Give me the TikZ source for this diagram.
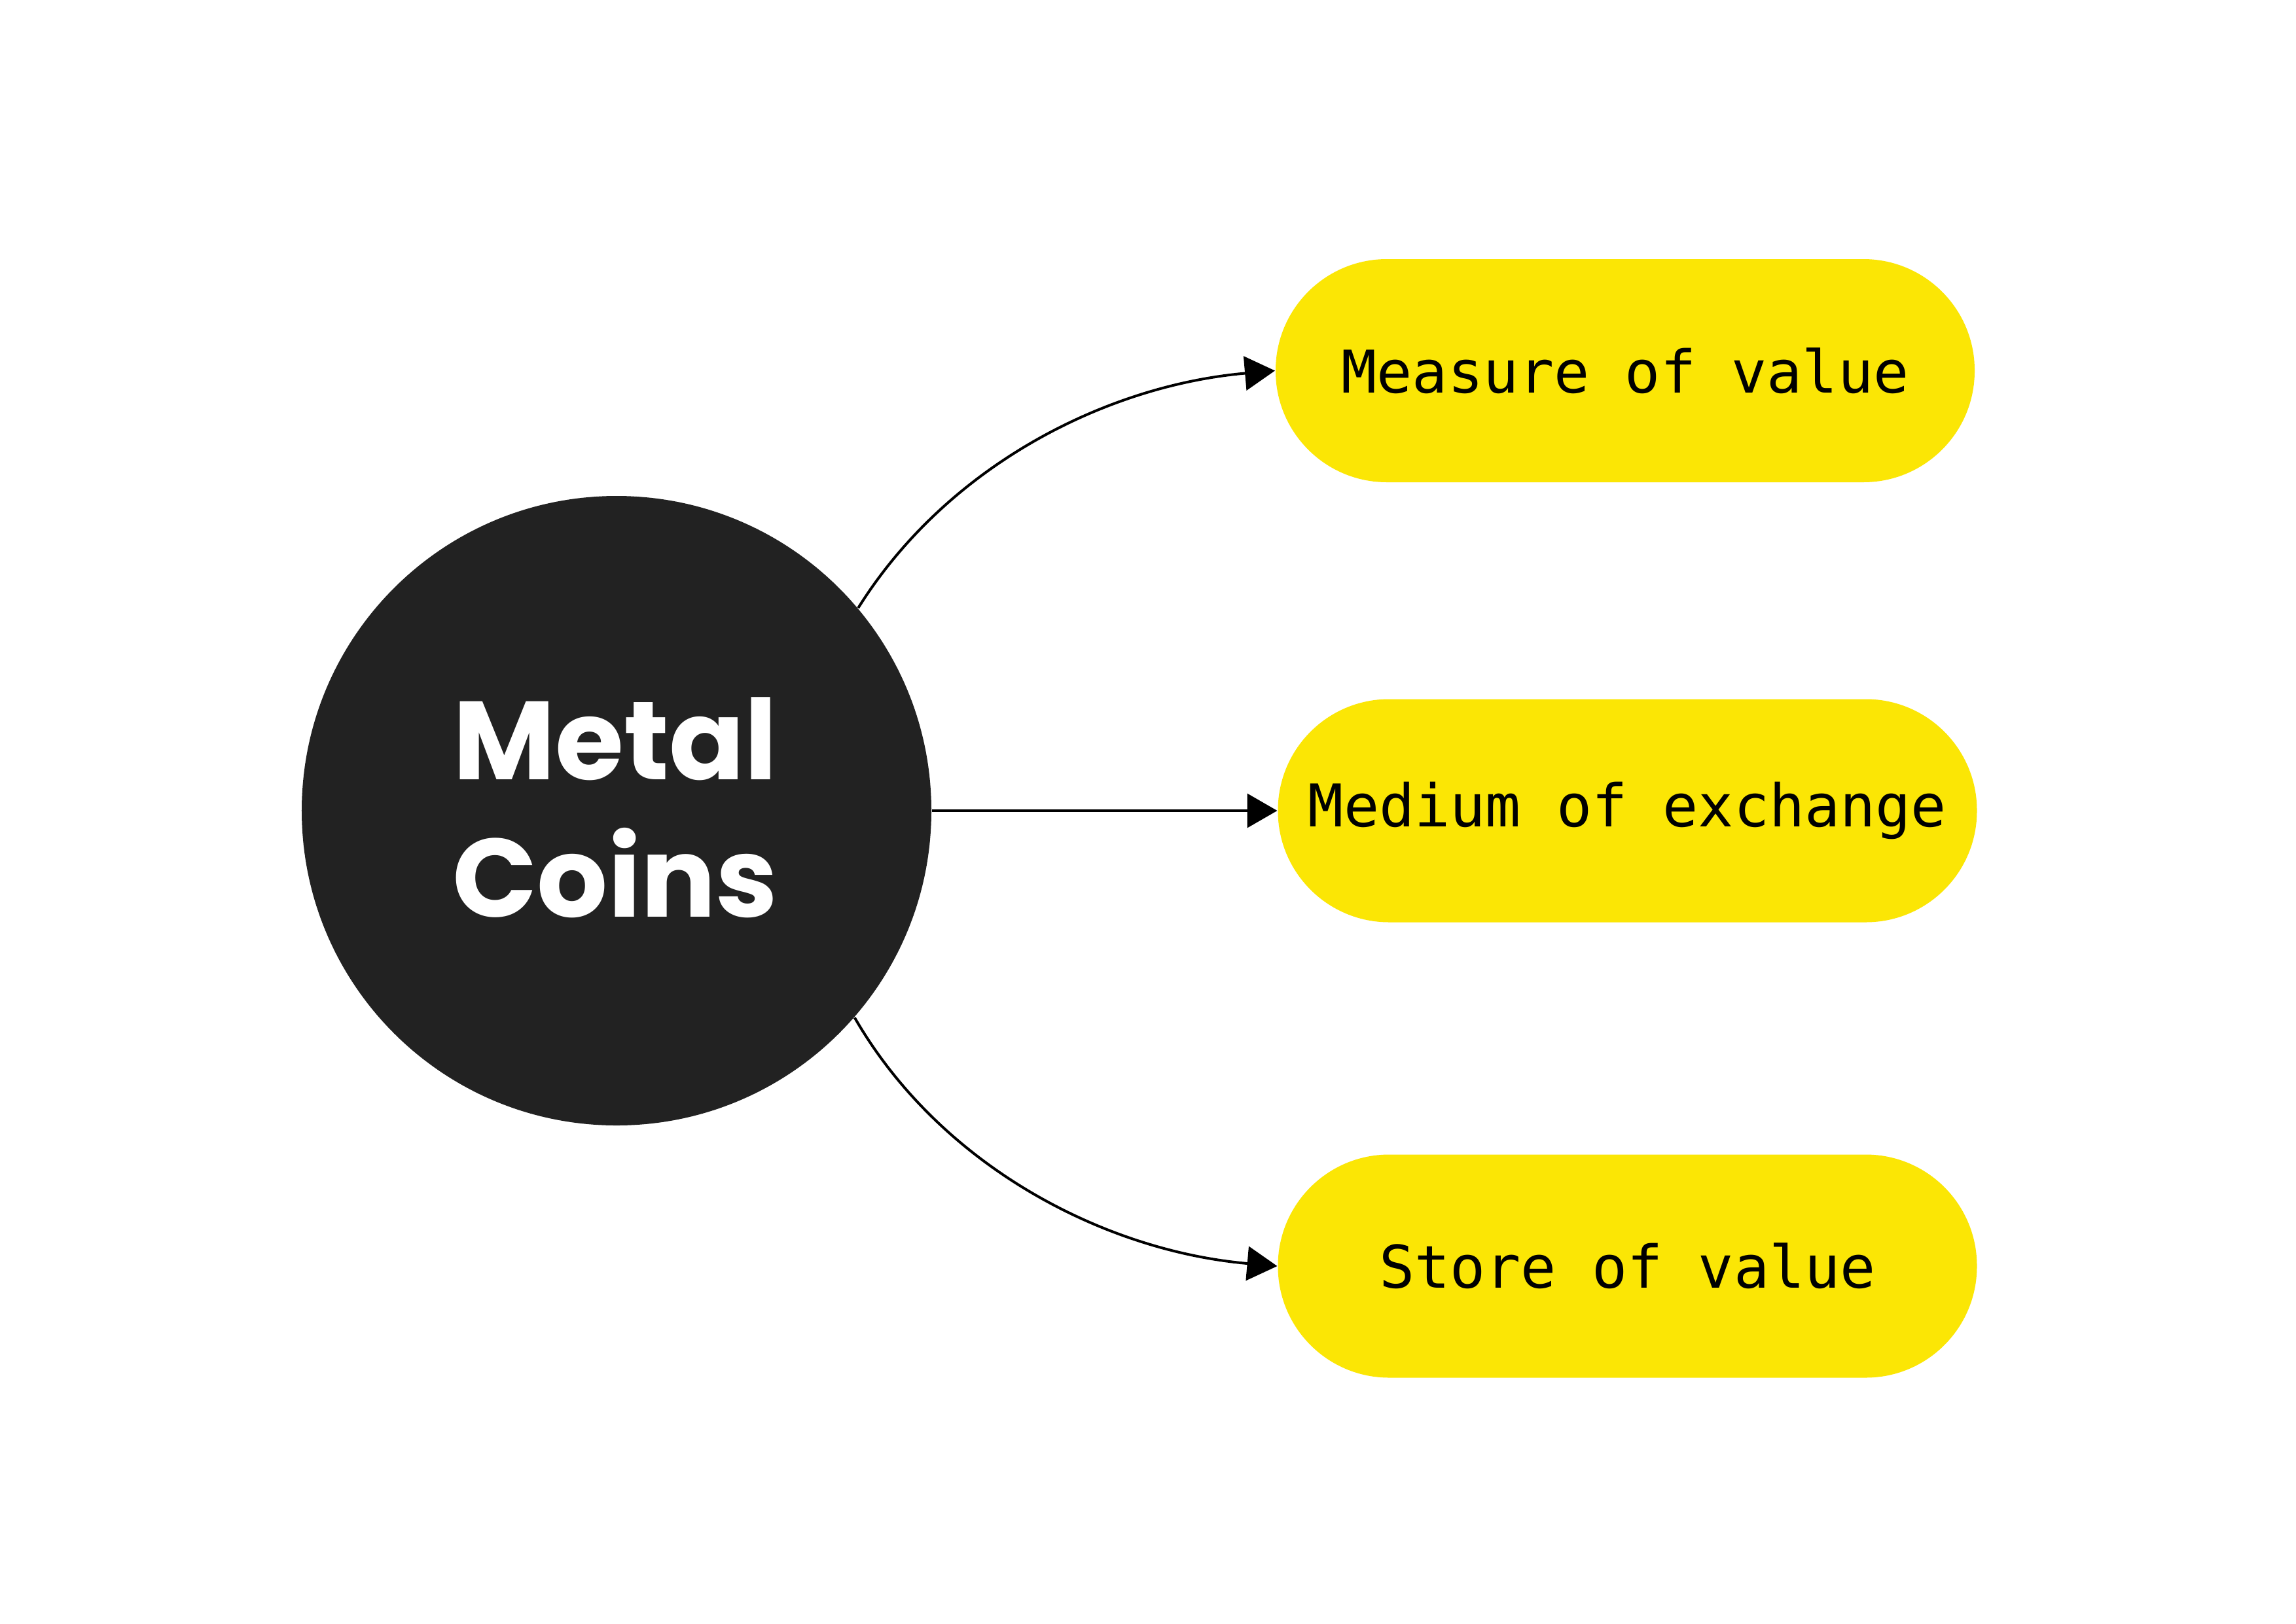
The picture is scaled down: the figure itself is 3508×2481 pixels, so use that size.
\documentclass[tikz,border=0pt]{standalone}
\usepackage{fontspec}
\setmonofont{DejaVu Sans Mono}
\newfontfamily\titlefont{Poppins}
\usetikzlibrary{arrows.meta}
\definecolor{coin}{RGB}{34,34,34}
\definecolor{pillyellow}{RGB}{251,230,5}
\tikzset{
  pill/.style={rectangle, fill=pillyellow, minimum width=213.6pt, minimum height=68.2pt,
    rounded corners=34pt, inner sep=0pt, font=\ttfamily\fontsize{18}{20}\selectfont},
  conn/.style={line width=0.8pt, -{Triangle[length=9.2pt, width=10.4pt]}}
}
\begin{document}
\begin{tikzpicture}[x=0.2pt, y=-0.2pt]
\useasboundingbox[fill=white] (0,0) rectangle (3508,2481);
\node[circle, fill=coin, minimum size=192.4pt, inner sep=0pt] (c) at (942,1239) {};
\node[text=white, align=center, inner sep=0pt,
  font=\titlefont\bfseries\fontsize{34}{42}\selectfont] (t) at (940,1234) {Metal\\Coins};
\node[pill] (p1) at (2483,566.5) {Measure of value};
\node[pill] (p2) at (2486.5,1239) {Medium of exchange};
\node[pill] (p3) at (2486.5,1935) {Store of value};
\draw[conn] (c.40) to[out=58,in=185,looseness=0.9] (p1.west);
\draw[conn] (c.east) -- (p2.west);
\draw[conn] (c.-41) to[out=-60,in=175,looseness=0.9] (p3.west);
\end{tikzpicture}
\end{document}
